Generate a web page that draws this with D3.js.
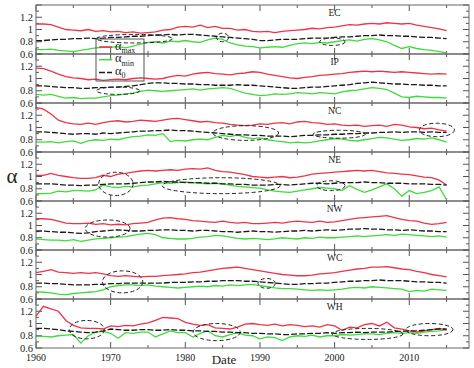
<!DOCTYPE html>
<html>
<head>
<meta charset="utf-8">
<script src="https://cdn.jsdelivr.net/npm/d3@7"></script>
<style>
  body { margin: 0; background: #fff; }
  svg { display: block; font-family: "Liberation Serif", "DejaVu Serif", serif; }
</style>
</head>
<body>
<script>
// yearly values 1960..2015
var years = d3.range(1960, 2016);
var regions = ["EC", "IP", "NC", "NE", "NW", "WC", "WH"];

var alphaMax = {
  EC: [1.09, 1.09, 1.08, 1.04, 1.00, 0.99, 0.98, 1.00, 0.97, 0.98, 0.96, 0.97, 0.95, 0.96, 0.94, 0.95, 0.96, 0.99, 1.00, 1.04, 1.05, 1.04, 1.07, 1.03, 1.05, 1.02, 1.02, 0.99, 1.00, 0.97, 0.96, 0.97, 0.95, 0.97, 0.98, 0.99, 1.00, 1.02, 1.01, 1.03, 1.04, 1.06, 1.08, 1.07, 1.09, 1.10, 1.09, 1.11, 1.10, 1.09, 1.10, 1.07, 1.05, 1.03, 1.01, 0.98],
  IP: [1.17, 1.16, 1.12, 1.07, 1.03, 1.01, 1.00, 0.98, 0.99, 0.97, 0.98, 0.99, 0.98, 1.00, 1.01, 1.00, 0.99, 1.00, 1.03, 1.05, 1.04, 1.07, 1.09, 1.10, 1.08, 1.07, 1.06, 1.08, 1.09, 1.11, 1.10, 1.07, 1.05, 1.03, 1.01, 1.00, 1.02, 1.03, 1.05, 1.06, 1.07, 1.08, 1.10, 1.11, 1.12, 1.11, 1.12, 1.11, 1.10, 1.11, 1.10, 1.09, 1.08, 1.07, 1.08, 1.07],
  NC: [1.33, 1.30, 1.22, 1.12, 1.08, 1.06, 1.05, 1.07, 1.05, 1.08, 1.10, 1.11, 1.09, 1.10, 1.12, 1.11, 1.10, 1.12, 1.14, 1.15, 1.13, 1.11, 1.09, 1.10, 1.08, 1.07, 1.05, 1.04, 1.03, 1.04, 1.06, 1.05, 1.07, 1.08, 1.06, 1.09, 1.10, 1.08, 1.07, 1.05, 1.06, 1.04, 1.03, 1.04, 1.02, 1.03, 1.04, 1.02, 1.05, 1.04, 1.01, 1.00, 0.98, 0.99, 0.96, 0.94],
  NE: [1.02, 1.02, 1.05, 1.02, 1.00, 0.98, 0.97, 0.97, 0.98, 1.02, 1.00, 1.04, 1.05, 1.07, 1.09, 1.10, 1.09, 1.10, 1.11, 1.10, 1.12, 1.13, 1.12, 1.14, 1.10, 1.08, 1.07, 1.05, 1.03, 1.00, 0.99, 0.98, 0.99, 1.00, 0.98, 0.99, 1.01, 1.04, 1.05, 1.06, 1.07, 1.08, 1.09, 1.10, 1.09, 1.10, 1.08, 1.06, 1.05, 1.04, 1.03, 1.01, 0.99, 0.98, 0.94, 0.86],
  NW: [1.11, 1.11, 1.10, 1.07, 1.04, 1.03, 1.03, 1.04, 1.02, 1.03, 1.01, 1.02, 1.01, 1.03, 1.04, 1.05, 1.09, 1.12, 1.13, 1.11, 1.10, 1.08, 1.07, 1.06, 1.05, 1.07, 1.05, 1.04, 1.05, 1.03, 1.03, 1.04, 1.05, 1.04, 1.06, 1.07, 1.06, 1.05, 1.07, 1.05, 1.06, 1.08, 1.10, 1.12, 1.13, 1.14, 1.15, 1.16, 1.13, 1.10, 1.08, 1.07, 1.04, 1.02, 1.03, 1.05],
  WC: [1.03, 1.05, 1.08, 1.04, 1.03, 1.02, 1.03, 1.02, 1.03, 1.01, 0.98, 0.97, 0.98, 0.97, 0.96, 0.97, 0.97, 0.98, 0.99, 1.00, 1.01, 1.03, 1.04, 1.06, 1.08, 1.10, 1.11, 1.12, 1.10, 1.08, 1.06, 1.04, 1.02, 1.00, 0.99, 0.98, 0.98, 0.99, 1.01, 1.02, 1.03, 1.05, 1.07, 1.09, 1.10, 1.12, 1.12, 1.13, 1.11, 1.09, 1.08, 1.05, 1.03, 1.00, 0.98, 0.96],
  WH: [1.12, 1.28, 1.24, 1.20, 1.05, 0.97, 0.93, 0.92, 0.92, 0.91, 0.96, 0.95, 0.97, 0.96, 0.99, 1.01, 1.05, 1.10, 1.09, 1.08, 1.02, 0.99, 0.97, 0.98, 0.93, 0.92, 0.91, 0.94, 0.99, 1.00, 0.98, 0.97, 0.99, 0.96, 0.98, 0.97, 0.95, 0.96, 0.94, 0.98, 0.96, 0.89, 0.94, 0.93, 0.98, 1.00, 0.96, 1.02, 0.93, 0.91, 0.88, 0.86, 0.88, 0.90, 0.92, 0.89]
};

var alphaMin = {
  EC: [0.67, 0.67, 0.68, 0.66, 0.65, 0.64, 0.66, 0.68, 0.70, 0.71, 0.71, 0.72, 0.70, 0.73, 0.76, 0.79, 0.80, 0.78, 0.81, 0.80, 0.82, 0.80, 0.79, 0.83, 0.86, 0.84, 0.78, 0.75, 0.73, 0.72, 0.70, 0.71, 0.72, 0.71, 0.74, 0.77, 0.78, 0.77, 0.79, 0.78, 0.80, 0.82, 0.83, 0.81, 0.84, 0.85, 0.83, 0.80, 0.74, 0.69, 0.72, 0.69, 0.67, 0.66, 0.64, 0.62],
  IP: [0.74, 0.73, 0.74, 0.71, 0.68, 0.69, 0.67, 0.68, 0.68, 0.70, 0.72, 0.73, 0.75, 0.76, 0.79, 0.81, 0.80, 0.79, 0.80, 0.81, 0.82, 0.83, 0.81, 0.83, 0.84, 0.85, 0.84, 0.80, 0.76, 0.74, 0.72, 0.73, 0.75, 0.74, 0.75, 0.77, 0.76, 0.75, 0.77, 0.76, 0.75, 0.78, 0.80, 0.81, 0.83, 0.85, 0.84, 0.82, 0.76, 0.70, 0.69, 0.71, 0.70, 0.69, 0.69, 0.68],
  NC: [0.76, 0.76, 0.77, 0.75, 0.77, 0.78, 0.74, 0.78, 0.80, 0.79, 0.81, 0.80, 0.83, 0.85, 0.86, 0.88, 0.87, 0.90, 0.77, 0.79, 0.78, 0.80, 0.81, 0.80, 0.84, 0.87, 0.85, 0.88, 0.84, 0.82, 0.83, 0.80, 0.78, 0.77, 0.75, 0.76, 0.75, 0.76, 0.78, 0.80, 0.82, 0.81, 0.79, 0.78, 0.80, 0.82, 0.84, 0.83, 0.81, 0.79, 0.80, 0.82, 0.81, 0.83, 0.80, 0.76],
  NE: [0.72, 0.72, 0.73, 0.76, 0.75, 0.77, 0.77, 0.76, 0.78, 0.86, 0.83, 0.82, 0.84, 0.83, 0.85, 0.86, 0.88, 0.90, 0.89, 0.90, 0.91, 0.90, 0.89, 0.88, 0.89, 0.88, 0.86, 0.84, 0.83, 0.82, 0.81, 0.78, 0.76, 0.75, 0.74, 0.76, 0.78, 0.80, 0.82, 0.81, 0.80, 0.77, 0.85, 0.79, 0.74, 0.78, 0.83, 0.88, 0.80, 0.68, 0.77, 0.72, 0.74, 0.77, 0.83, 0.62],
  NW: [0.78, 0.77, 0.76, 0.76, 0.75, 0.77, 0.74, 0.76, 0.78, 0.79, 0.80, 0.81, 0.82, 0.84, 0.86, 0.87, 0.85, 0.80, 0.79, 0.78, 0.78, 0.79, 0.81, 0.82, 0.84, 0.83, 0.81, 0.79, 0.78, 0.79, 0.78, 0.77, 0.78, 0.80, 0.79, 0.78, 0.80, 0.79, 0.81, 0.80, 0.80, 0.81, 0.82, 0.83, 0.82, 0.83, 0.84, 0.85, 0.84, 0.86, 0.85, 0.84, 0.83, 0.82, 0.83, 0.81],
  WC: [0.72, 0.71, 0.70, 0.68, 0.67, 0.69, 0.70, 0.71, 0.72, 0.75, 0.80, 0.82, 0.83, 0.83, 0.82, 0.83, 0.81, 0.80, 0.79, 0.78, 0.79, 0.80, 0.81, 0.80, 0.82, 0.81, 0.83, 0.82, 0.83, 0.84, 0.82, 0.80, 0.78, 0.77, 0.77, 0.76, 0.75, 0.74, 0.75, 0.74, 0.75, 0.76, 0.78, 0.79, 0.78, 0.80, 0.79, 0.78, 0.77, 0.76, 0.72, 0.74, 0.73, 0.76, 0.75, 0.74],
  WH: [0.79, 0.79, 0.78, 0.80, 0.81, 0.82, 0.68, 0.80, 0.86, 0.87, 0.84, 0.76, 0.85, 0.84, 0.86, 0.86, 0.78, 0.83, 0.88, 0.85, 0.85, 0.78, 0.84, 0.88, 0.80, 0.78, 0.82, 0.85, 0.81, 0.80, 0.75, 0.78, 0.77, 0.72, 0.78, 0.80, 0.79, 0.81, 0.78, 0.80, 0.80, 0.82, 0.81, 0.82, 0.83, 0.83, 0.82, 0.84, 0.85, 0.84, 0.85, 0.84, 0.86, 0.87, 0.88, 0.90]
};

var alpha0 = {
  EC: [0.82, 0.82, 0.83, 0.84, 0.84, 0.85, 0.85, 0.86, 0.85, 0.86, 0.87, 0.87, 0.88, 0.89, 0.89, 0.90, 0.91, 0.91, 0.92, 0.91, 0.92, 0.92, 0.91, 0.90, 0.89, 0.88, 0.87, 0.86, 0.85, 0.84, 0.82, 0.82, 0.83, 0.84, 0.84, 0.84, 0.85, 0.86, 0.86, 0.86, 0.87, 0.88, 0.88, 0.89, 0.90, 0.90, 0.91, 0.90, 0.90, 0.89, 0.89, 0.88, 0.87, 0.87, 0.86, 0.85],
  IP: [0.88, 0.88, 0.87, 0.86, 0.85, 0.85, 0.84, 0.84, 0.85, 0.85, 0.86, 0.86, 0.87, 0.88, 0.90, 0.92, 0.93, 0.93, 0.92, 0.92, 0.91, 0.91, 0.90, 0.90, 0.89, 0.89, 0.89, 0.90, 0.89, 0.89, 0.88, 0.87, 0.86, 0.85, 0.84, 0.84, 0.85, 0.86, 0.86, 0.87, 0.88, 0.89, 0.90, 0.92, 0.93, 0.94, 0.93, 0.92, 0.91, 0.91, 0.90, 0.90, 0.89, 0.89, 0.88, 0.88],
  NC: [0.93, 0.93, 0.92, 0.91, 0.90, 0.89, 0.90, 0.90, 0.89, 0.91, 0.90, 0.91, 0.92, 0.93, 0.94, 0.94, 0.95, 0.95, 0.96, 0.95, 0.95, 0.94, 0.93, 0.92, 0.91, 0.90, 0.89, 0.88, 0.88, 0.87, 0.87, 0.86, 0.86, 0.86, 0.85, 0.86, 0.87, 0.87, 0.88, 0.88, 0.89, 0.89, 0.90, 0.90, 0.91, 0.91, 0.92, 0.92, 0.93, 0.92, 0.93, 0.93, 0.92, 0.93, 0.92, 0.92],
  NE: [0.88, 0.88, 0.88, 0.87, 0.86, 0.86, 0.85, 0.86, 0.86, 0.87, 0.88, 0.88, 0.88, 0.89, 0.90, 0.91, 0.91, 0.92, 0.91, 0.91, 0.90, 0.90, 0.90, 0.89, 0.89, 0.88, 0.88, 0.87, 0.87, 0.86, 0.86, 0.86, 0.87, 0.87, 0.86, 0.87, 0.88, 0.89, 0.89, 0.88, 0.89, 0.90, 0.90, 0.90, 0.91, 0.90, 0.90, 0.89, 0.89, 0.89, 0.88, 0.88, 0.88, 0.87, 0.87, 0.86],
  NW: [0.91, 0.91, 0.90, 0.89, 0.89, 0.88, 0.87, 0.88, 0.90, 0.91, 0.92, 0.93, 0.92, 0.91, 0.91, 0.92, 0.92, 0.93, 0.93, 0.92, 0.92, 0.91, 0.92, 0.92, 0.91, 0.90, 0.90, 0.89, 0.90, 0.91, 0.90, 0.90, 0.89, 0.90, 0.91, 0.91, 0.92, 0.91, 0.92, 0.93, 0.92, 0.93, 0.94, 0.94, 0.95, 0.94, 0.94, 0.93, 0.93, 0.92, 0.93, 0.92, 0.91, 0.91, 0.90, 0.90],
  WC: [0.86, 0.86, 0.85, 0.85, 0.84, 0.83, 0.83, 0.83, 0.84, 0.84, 0.85, 0.85, 0.86, 0.86, 0.86, 0.86, 0.86, 0.86, 0.87, 0.87, 0.87, 0.88, 0.88, 0.89, 0.89, 0.90, 0.90, 0.90, 0.89, 0.89, 0.88, 0.87, 0.86, 0.85, 0.84, 0.84, 0.85, 0.85, 0.86, 0.86, 0.87, 0.88, 0.89, 0.89, 0.90, 0.90, 0.91, 0.90, 0.90, 0.90, 0.89, 0.88, 0.88, 0.87, 0.87, 0.86],
  WH: [0.92, 0.92, 0.91, 0.90, 0.88, 0.87, 0.86, 0.85, 0.86, 0.88, 0.91, 0.90, 0.89, 0.89, 0.90, 0.90, 0.89, 0.89, 0.90, 0.89, 0.89, 0.88, 0.88, 0.87, 0.87, 0.86, 0.86, 0.85, 0.85, 0.84, 0.84, 0.83, 0.83, 0.82, 0.82, 0.83, 0.83, 0.84, 0.84, 0.85, 0.84, 0.85, 0.85, 0.86, 0.85, 0.86, 0.86, 0.86, 0.87, 0.87, 0.88, 0.88, 0.89, 0.90, 0.91, 0.91]
};

// highlighted periods: [centre year, centre alpha, half width (years), half height (alpha)]
var ellipses = {
  EC: [[1973.2, 0.85, 5.1, 0.07], [1985, 0.87, 0.8, 0.07], [1999.7, 0.80, 1.7, 0.06]],
  IP: [[1971, 0.80, 2.9, 0.06]],
  NC: [[1988.1, 0.91, 4.4, 0.12], [2000.6, 0.89, 3.5, 0.065], [2013.7, 0.96, 2.35, 0.11]],
  NE: [[1970.7, 0.88, 2.3, 0.19], [1984.8, 0.85, 7.9, 0.13], [1999.5, 0.85, 1.9, 0.08]],
  NW: [[1969.6, 0.95, 3.0, 0.14]],
  WC: [[1971.6, 0.88, 2.7, 0.18], [1990.9, 0.855, 1.15, 0.08]],
  WH: [[1966.8, 0.90, 2.35, 0.15], [1984.2, 0.86, 3.15, 0.14], [2004.4, 0.83, 4.75, 0.09], [2012.7, 0.90, 3.15, 0.10]]
};

var yTicks = [0.6, 0.8, 1, 1.2];
var xTicks = [1960, 1970, 1980, 1990, 2000, 2010];
var legendSubs = ["max", "min", "0"];

var W = 474, H = 368;
var mLeft = 36, mRight = 469, mTop = 5, ph = 49;
var red = "#ee3348", green = "#3ddc3a", black = "#1a1a1a";

var svg = d3.select("body").append("svg")
  .attr("width", W)
  .attr("height", H);

var x = d3.scaleLinear().domain([1960, 2018]).range([mLeft, mRight]);

regions.forEach(function(reg, i) {
  var y0 = mTop + i * ph;
  var y = d3.scaleLinear().domain([0.6, 1.4]).range([y0 + ph, y0]);
  var g = svg.append("g");

  // ticks, all pointing inward
  var majX = d3.range(1960, 2020, 10), minX = d3.range(1965, 2018, 10);
  majX.forEach(function(t) {
    g.append("line").attr("x1", x(t)).attr("x2", x(t)).attr("y1", y0 + ph).attr("y2", y0 + ph - 6);
    g.append("line").attr("x1", x(t)).attr("x2", x(t)).attr("y1", y0).attr("y2", y0 + 6);
  });
  minX.forEach(function(t) {
    g.append("line").attr("x1", x(t)).attr("x2", x(t)).attr("y1", y0 + ph).attr("y2", y0 + ph - 3);
    g.append("line").attr("x1", x(t)).attr("x2", x(t)).attr("y1", y0).attr("y2", y0 + 3);
  });
  [0.6, 0.8, 1.0, 1.2, 1.4].forEach(function(t) {
    g.append("line").attr("x1", mLeft).attr("x2", mLeft + 6).attr("y1", y(t)).attr("y2", y(t));
    g.append("line").attr("x1", mRight).attr("x2", mRight - 6).attr("y1", y(t)).attr("y2", y(t));
  });
  [0.7, 0.9, 1.1, 1.3].forEach(function(t) {
    g.append("line").attr("x1", mLeft).attr("x2", mLeft + 3).attr("y1", y(t)).attr("y2", y(t));
    g.append("line").attr("x1", mRight).attr("x2", mRight - 3).attr("y1", y(t)).attr("y2", y(t));
  });
  g.selectAll("line").attr("stroke", "#555").attr("stroke-width", 1);

  // y labels
  g.selectAll(".yl").data(yTicks).enter().append("text")
    .attr("x", mLeft - 3)
    .attr("y", function(d) { return y(d) + 3.5; })
    .attr("text-anchor", "end")
    .attr("font-size", "10.5px")
    .attr("fill", "#222")
    .text(function(d) { return d3.format("~g")(d); });

  var line = d3.line()
    .x(function(d, k) { return x(years[k]); })
    .y(function(d) { return y(d); });

  g.append("path").attr("d", line(alphaMin[reg]))
    .attr("fill", "none").attr("stroke", green).attr("stroke-width", 1.3);
  g.append("path").attr("d", line(alphaMax[reg]))
    .attr("fill", "none").attr("stroke", red).attr("stroke-width", 1.3);
  g.append("path").attr("d", line(alpha0[reg]))
    .attr("fill", "none").attr("stroke", black).attr("stroke-width", 1.3)
    .attr("stroke-dasharray", "6,2");

  g.selectAll(".ell").data(ellipses[reg]).enter().append("ellipse")
    .attr("cx", function(d) { return x(d[0]); })
    .attr("cy", function(d) { return y(d[1]); })
    .attr("rx", function(d) { return x(d[0] + d[2]) - x(d[0]); })
    .attr("ry", function(d) { return y(d[1] - d[3]) - y(d[1]); })
    .attr("fill", "none")
    .attr("stroke", "#222")
    .attr("stroke-width", 1)
    .attr("stroke-dasharray", "4,2.5");

  g.append("rect")
    .attr("x", mLeft).attr("y", y0)
    .attr("width", mRight - mLeft).attr("height", ph)
    .attr("fill", "none").attr("stroke", "#666").attr("stroke-width", 1);

  g.append("text")
    .attr("x", x(2000)).attr("y", y0 + 11)
    .attr("text-anchor", "middle")
    .attr("font-size", "9.5px")
    .attr("fill", "#222")
    .text(reg);
});

// x tick labels
svg.selectAll(".xl").data(xTicks).enter().append("text")
  .attr("x", function(d) { return x(d); })
  .attr("y", 361)
  .attr("text-anchor", "middle")
  .attr("font-size", "10px")
  .attr("fill", "#222")
  .text(function(d) { return d; });

svg.append("text")
  .attr("x", 224).attr("y", 364)
  .attr("text-anchor", "middle")
  .attr("font-size", "13px")
  .attr("fill", "#222")
  .text("Date");

svg.append("text")
  .attr("x", 12).attr("y", 183)
  .attr("text-anchor", "middle")
  .attr("font-size", "21px")
  .attr("fill", "#222")
  .text("α");

// legend
var lg = svg.append("g");
lg.append("rect").attr("x", 96).attr("y", 39).attr("width", 48).attr("height", 42)
  .attr("fill", "none").attr("stroke", "#555").attr("stroke-width", 1);
var legColors = [red, green, black];
legendSubs.forEach(function(s, k) {
  var ly = 47 + k * 12.7;
  lg.append("line").attr("x1", 99).attr("x2", 112).attr("y1", ly).attr("y2", ly)
    .attr("stroke", legColors[k]).attr("stroke-width", 1.5)
    .attr("stroke-dasharray", k == 2 ? "6,2" : null);
  var t = lg.append("text").attr("x", 115).attr("y", ly + 2.5)
    .attr("font-size", "12.5px").attr("fill", "#222");
  t.append("tspan").text("α");
  t.append("tspan").attr("dy", 3.5).attr("font-size", "8px").text(s);
});
</script>
</body>
</html>
